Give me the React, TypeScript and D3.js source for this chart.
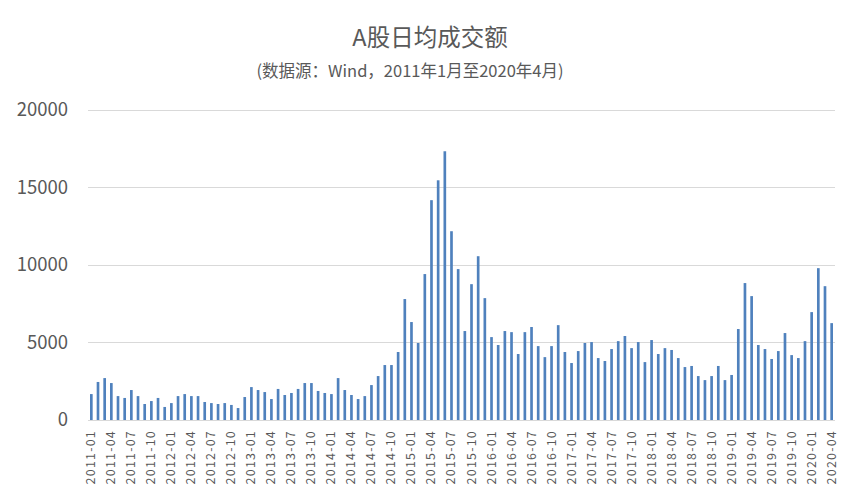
import React from "react";
import * as d3 from "d3";

// 月度日均成交额（亿元），2011-01 至 2020-04
const startYear = 2011;
const turnover = [
  1670, 2450, 2700, 2380, 1540, 1420, 1930, 1540, 1030, 1220, 1420, 840,
  1090, 1540, 1670, 1540, 1540, 1160, 1090, 1030, 1090, 970, 770, 1480,
  2120, 1930, 1800, 1350, 2000, 1610, 1740, 2000, 2380, 2380, 1870, 1740,
  1670, 2700, 1930, 1610, 1350, 1540, 2250, 2830, 3540, 3540, 4380, 7790,
  6310, 4960, 9400, 14160, 15440, 17310, 12160, 9720, 5730, 8750, 10550, 7850,
  5340, 4830, 5730, 5660, 4250, 5660, 5990, 4760, 4050, 4760, 6110, 4380,
  3670, 4440, 4960, 5020, 3990, 3800, 4570, 5080, 5410, 4630, 5020, 3730,
  5150, 4250, 4630, 4510, 3990, 3410, 3480, 2830, 2570, 2830, 3480, 2570,
  2900, 5860, 8820, 7980, 4830, 4570, 3930, 4440, 5600, 4180, 3990, 5080,
  6950, 9780, 8620, 6240,
];
const months = turnover.map((_, i) => {
  const y = startYear + Math.floor(i / 12);
  const m = (i % 12) + 1;
  return `${y}-${m < 10 ? "0" + m : m}`;
});
const yTicks = [0, 5000, 10000, 15000, 20000];

const title = "A股日均成交额";
const subtitle = "(数据源：Wind，2011年1月至2020年4月)";

const W = 857;
const H = 502;
const font = "'Noto Sans CJK SC', 'Noto Sans', sans-serif";
const textColor = "#595959";

export default function App() {
  const x = d3
    .scaleBand<string>()
    .domain(months)
    .range([88, 835])
    .paddingInner(0.6)
    .paddingOuter(0.3);
  const y = d3.scaleLinear().domain([0, 20000]).range([420, 109.5]);

  return (
    <svg
      width={W}
      height={H}
      style={{ position: "absolute", left: 0, top: 0, background: "#fff" }}
      fontFamily={font}
    >
      <text x={430} y={46} textAnchor="middle" fontSize={23.5} fill={textColor}>
        {title}
      </text>
      <text x={410} y={77} textAnchor="middle" fontSize={16.5} fill={textColor}>
        {subtitle}
      </text>

      {/* grid + y axis */}
      <g>
        {yTicks.map((t) => (
          <g key={t}>
            <line
              x1={88}
              x2={835}
              y1={Math.round(y(t)) + 0.5}
              y2={Math.round(y(t)) + 0.5}
              stroke="#d9d9d9"
              strokeWidth={1}
            />
            <text
              x={68}
              y={y(t)}
              dy="0.35em"
              textAnchor="end"
              fontSize={18.5}
              fill={textColor}
            >
              {t}
            </text>
          </g>
        ))}
      </g>

      {/* bars */}
      <g fill="#4f81bd">
        {turnover.map((v, i) => (
          <rect
            key={months[i]}
            x={x(months[i])}
            y={y(v)}
            width={x.bandwidth()}
            height={y(0) - y(v)}
          />
        ))}
      </g>

      {/* x labels, every quarter */}
      <g>
        {months
          .filter((_, i) => i % 3 === 0)
          .map((m) => {
            const cx = (x(m) as number) + x.bandwidth() / 2;
            return (
              <text
                key={m}
                transform={`translate(${cx + 4},430) rotate(-90)`}
                textAnchor="end"
                fontSize={12.5}
                letterSpacing={1.2}
                fill={textColor}
              >
                {m}
              </text>
            );
          })}
      </g>
    </svg>
  );
}
